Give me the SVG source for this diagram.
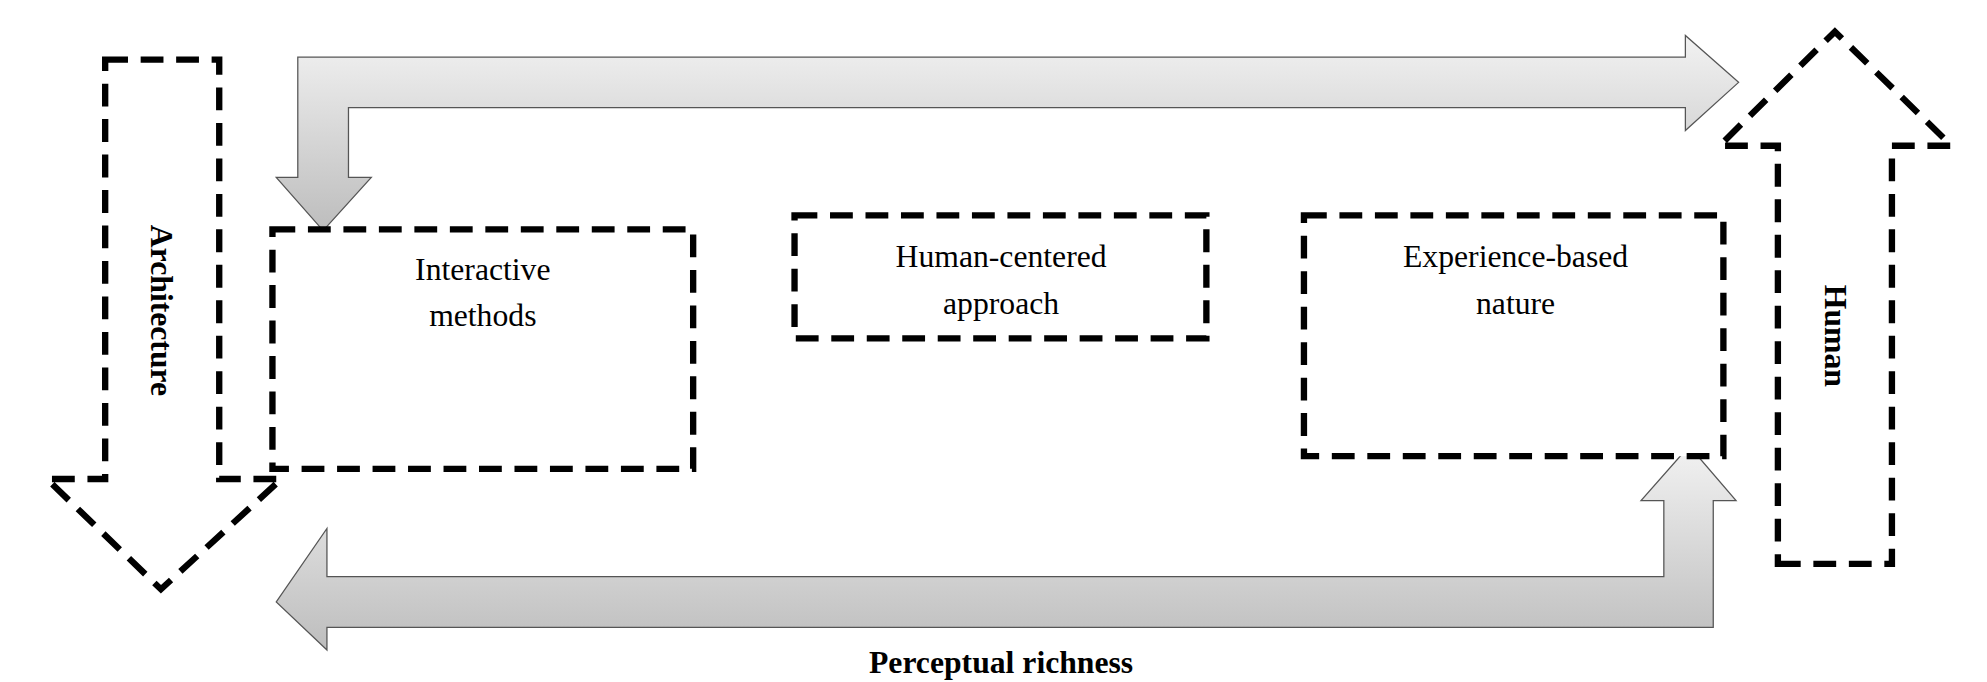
<svg xmlns="http://www.w3.org/2000/svg" width="1987" height="682" viewBox="0 0 1987 682">
<defs>
<linearGradient id="g" x1="0" y1="0" x2="0" y2="1"><stop offset="0" stop-color="#f2f2f2"/><stop offset="1" stop-color="#bdbdbd"/></linearGradient>
<style>
.d{fill:#fff;stroke:#000;stroke-width:5;stroke-dasharray:18 10}
.a{stroke:#555;stroke-width:1}
.t{font-family:"Liberation Serif",serif;font-size:25px;text-anchor:middle;fill:#000}
</style>
</defs>
<rect width="1987" height="682" fill="#fff"/>
<g transform="scale(1.2672)">
<g id="connectors">
<path class="a" fill="url(#g)" d="M235,45 H1330 V28 L1372,65 L1330,103 V85 H275 V140 H293 L255,182 L218,140 H235 Z"/>
<path class="a" fill="url(#g)" d="M1352,495 H258 V513 L218,475 L258,417 V455 H1313 V395 H1295 L1333,352 L1370,395 H1352 Z"/>
</g>
<g id="architecture">
<path class="d" d="M83,47 H173 V378 H222 L127,465 L37,378 H83 Z"/>
<text class="t" font-weight="bold" transform="translate(119,245) rotate(90)">Architecture</text>
</g>
<g id="human">
<path class="d" d="M1403,445 H1493 V115 H1540 L1448,25 L1357,115 H1403 Z"/>
<text class="t" font-weight="bold" transform="translate(1440,265) rotate(90)">Human</text>
</g>
<g id="interactive">
<rect class="d" x="215" y="181" width="332" height="189"/>
<text class="t" x="381" y="221">Interactive</text>
<text class="t" x="381" y="257">methods</text>
</g>
<g id="humancentered">
<rect class="d" x="627" y="170" width="325" height="97"/>
<text class="t" x="790" y="211">Human-centered</text>
<text class="t" x="790" y="248">approach</text>
</g>
<g id="experience">
<rect class="d" x="1029" y="170" width="331" height="190"/>
<text class="t" x="1196" y="211">Experience-based</text>
<text class="t" x="1196" y="248">nature</text>
</g>
<text class="t" x="790" y="531" font-weight="bold">Perceptual richness</text>
</g>
</svg>
